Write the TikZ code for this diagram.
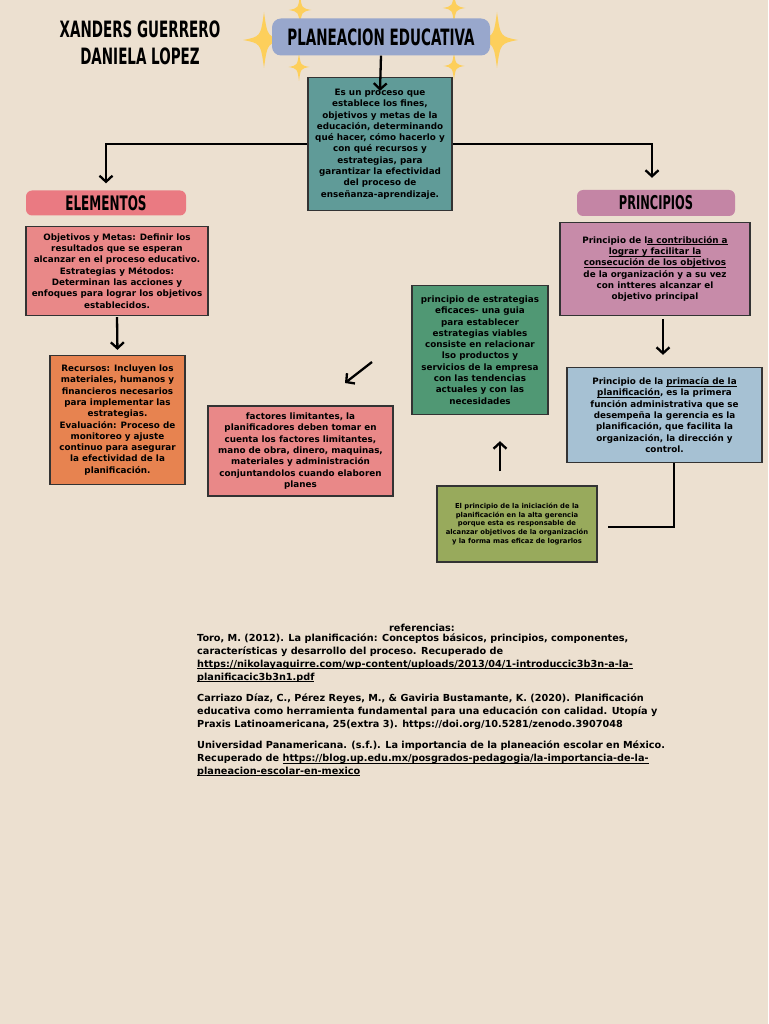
\documentclass[tikz,border=0pt]{standalone}
\usepackage{fontspec}
\setmainfont{DejaVu Sans}
\newfontfamily\handfont{DejaVu Sans}[FakeStretch=0.6]
\usetikzlibrary{arrows.meta}
\newcommand\undl[1]{\setbox0\hbox{#1}\rlap{\rule[-1.6pt]{\wd0}{0.5pt}}\box0}
\definecolor{paper}{RGB}{236,224,208}
\definecolor{sun}{RGB}{253,207,91}
\definecolor{titlecol}{RGB}{152,167,204}
\definecolor{tealcol}{RGB}{96,155,152}
\definecolor{pinkcol}{RGB}{233,136,136}
\definecolor{redtag}{RGB}{234,122,130}
\definecolor{orangecol}{RGB}{231,131,80}
\definecolor{greencol}{RGB}{80,152,116}
\definecolor{mauvecol}{RGB}{199,139,169}
\definecolor{mauvetag}{RGB}{196,133,165}
\definecolor{bluecol}{RGB}{166,193,211}
\definecolor{olivecol}{RGB}{152,170,92}
\tikzset{
  card/.style={draw=black!80, line width=1.3pt, align=center, inner sep=0pt,
    font=\bfseries\fontsize{8.8}{11.3}\selectfont},
  tag/.style={rounded corners=6pt, inner sep=0pt,
    font=\handfont\bfseries\fontsize{19}{19}\selectfont},
  arr/.style={-{Straight Barb[length=6pt,width=13pt]}, line width=2.3pt},
  link/.style={line width=2.3pt},
}
\begin{document}
\begin{tikzpicture}[x=1pt,y=-1pt]
\fill[paper] (0,0) rectangle (768,1024);
\useasboundingbox (0,0) rectangle (768,1024);
\foreach \sx/\sy/\sr in {264/40/28, 497/40/28, 300/10/15, 454/8/15, 299/67/14, 454/66/14}{
  \fill[sun] ({\sx},{\sy-\sr}) .. controls ({\sx+0.12*\sr},{\sy-0.12*\sr}) .. ({\sx+0.75*\sr},{\sy})
    .. controls ({\sx+0.12*\sr},{\sy+0.12*\sr}) .. ({\sx},{\sy+\sr})
    .. controls ({\sx-0.12*\sr},{\sy+0.12*\sr}) .. ({\sx-0.75*\sr},{\sy})
    .. controls ({\sx-0.12*\sr},{\sy-0.12*\sr}) .. cycle;
}
\node[align=center, font=\handfont\bfseries\fontsize{22.5}{27}\selectfont] (authors) at (140,43) {XANDERS GUERRERO\\DANIELA LOPEZ};
\node[tag, fill=titlecol, rounded corners=9pt, minimum width=218pt, minimum height=37pt,
  font=\handfont\bfseries\fontsize{22.5}{22.5}\selectfont] (title) at (381,37) {PLANEACION EDUCATIVA};
\node[card, fill=tealcol, minimum width=144pt, minimum height=133pt] (central) at (380,144)
  {Es un proceso que\\establece los fines,\\objetivos y metas de la\\educación, determinando\\qué hacer, cómo hacerlo y\\con qué recursos y\\estrategias, para\\garantizar la efectividad\\del proceso de\\enseñanza-aprendizaje.};
\node[tag, fill=redtag, minimum width=160pt, minimum height=25pt, font=\handfont\bfseries\fontsize{20}{20}\selectfont] (elem) at (106,203) {ELEMENTOS};
\node[tag, fill=mauvetag, minimum width=158pt, minimum height=26pt] (princ) at (656,203) {PRINCIPIOS};
\node[card, fill=pinkcol, minimum width=182pt, minimum height=89pt] (metas) at (117,271)
  {Objetivos y Metas: Definir los\\resultados que se esperan\\alcanzar en el proceso educativo.\\Estrategias y Métodos:\\Determinan las acciones y\\enfoques para lograr los objetivos\\establecidos.};
\node[card, fill=orangecol, minimum width=135pt, minimum height=129pt] (recursos) at (117.5,420)
  {Recursos: Incluyen los\\materiales, humanos y\\financieros necesarios\\para implementar las\\estrategias.\\Evaluación: Proceso de\\monitoreo y ajuste\\continuo para asegurar\\la efectividad de la\\planificación.};
\node[card, fill=pinkcol, minimum width=185pt, minimum height=90pt] (factores) at (300.5,451)
  {factores limitantes, la\\planificadores deben tomar en\\cuenta los factores limitantes,\\mano de obra, dinero, maquinas,\\materiales y administración\\conjuntandolos cuando elaboren\\planes};
\node[card, fill=greencol, minimum width=136pt, minimum height=129pt] (estrategias) at (480,350)
  {principio de estrategias\\eficaces- una guia\\para establecer\\estrategias viables\\consiste en relacionar\\lso productos y\\servicios de la empresa\\con las tendencias\\actuales y con las\\necesidades};
\node[card, fill=mauvecol, minimum width=190pt, minimum height=93pt] (contrib) at (655,269)
  {Principio de l\undl{a contribución a}\\\undl{lograr y facilitar la}\\\undl{consecución de los objetivos}\\de la organización y a su vez\\con intteres alcanzar el\\objetivo principal};
\node[card, fill=bluecol, minimum width=195pt, minimum height=95pt] (primacia) at (664.5,415)
  {Principio de la \undl{primacía de la}\\\undl{planificación}, es la primera\\función administrativa que se\\desempeña la gerencia es la\\planificación, que facilita la\\organización, la dirección y\\control.};
\node[card, fill=olivecol, minimum width=160pt, minimum height=76pt, font=\bfseries\fontsize{6.8}{8.6}\selectfont] (iniciacion) at (517,524)
  {El principio de la iniciación de la\\planificación en la alta gerencia\\porque esta es responsable de\\alcanzar objetivos de la organización\\y la forma mas eficaz de lograrlos};
\node[font=\bfseries\fontsize{9.7}{12.7}\selectfont] (refhead) at (422,628) {referencias:};
\node[anchor=north west, align=left, inner sep=0pt, font=\bfseries\fontsize{9.7}{12.7}\selectfont] (refs) at (197,634)
  {Toro, M. (2012). La planificación: Conceptos básicos, principios, componentes,\\
   características y desarrollo del proceso. Recuperado de\\
   \undl{https://nikolayaguirre.com/wp-content/uploads/2013/04/1-introduccic3b3n-a-la-}\\
   \undl{planificacic3b3n1.pdf}\\[9pt]
   Carriazo Díaz, C., Pérez Reyes, M., \& Gaviria Bustamante, K. (2020). Planificación\\
   educativa como herramienta fundamental para una educación con calidad. Utopía y\\
   Praxis Latinoamericana, 25(extra 3). https://doi.org/10.5281/zenodo.3907048\\[9pt]
   Universidad Panamericana. (s.f.). La importancia de la planeación escolar en México.\\
   Recuperado de \undl{https://blog.up.edu.mx/posgrados-pedagogia/la-importancia-de-la-}\\
   \undl{planeacion-escolar-en-mexico}};
\coordinate (fa) at (372,362);
\coordinate (fb) at (345,383);
\draw[arr] (title.south) -- ([yshift=-14pt]central.north);
\draw[arr, shorten >=7pt] (central.west) -| (elem.north);
\draw[arr, shorten >=12pt] (central.east) -| ([xshift=-4pt]princ.north);
\draw[arr, shorten <=1pt, shorten >=5pt] (metas.south) -- (recursos.north);
\draw[arr, shorten <=3pt, shorten >=12pt] ([xshift=8pt]contrib.south) -- ([xshift=-1.5pt]primacia.north);
\draw[arr, shorten <=14pt, shorten >=26pt] ([xshift=-17pt]iniciacion.north) -- ([xshift=20pt]estrategias.south);
\draw[arr] (fa) -- (fb);
\draw[link] ([xshift=9.5pt]primacia.south) |- ([xshift=10pt,yshift=-3pt]iniciacion.east);
\end{tikzpicture}
\end{document}
